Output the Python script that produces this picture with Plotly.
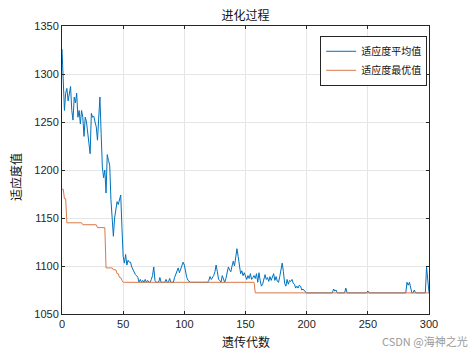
import plotly.graph_objects as go

generations = list(range(0, 301))

avg_fitness = [
    1326, 1300, 1262, 1280, 1285, 1272, 1278, 1287, 1262, 1252,
    1276, 1270, 1280, 1255, 1262, 1248, 1262, 1255, 1235, 1255,
    1250, 1241, 1228, 1217, 1259, 1255, 1256, 1250, 1245, 1231,
    1260, 1276, 1238, 1203, 1192, 1200, 1176, 1216, 1210, 1205,
    1169, 1145, 1131, 1150, 1160, 1167, 1164, 1168, 1174, 1140,
    1110, 1103, 1112, 1101, 1106, 1104, 1104, 1099, 1096, 1093,
    1091, 1090, 1088, 1083, 1086, 1083, 1085, 1083, 1086, 1083,
    1085, 1083, 1083, 1086, 1090, 1099, 1085, 1083, 1083, 1083,
    1088, 1083, 1083, 1083, 1083, 1086, 1083, 1083, 1087, 1083,
    1083, 1083, 1088, 1092, 1094, 1098, 1093, 1097, 1102, 1104,
    1101, 1092, 1088, 1085, 1084, 1083, 1083, 1083, 1083, 1083,
    1083, 1083, 1083, 1083, 1083, 1083, 1083, 1083, 1083, 1083,
    1085, 1089, 1086, 1088, 1090, 1094, 1101, 1094, 1086, 1085,
    1083, 1090, 1086, 1083, 1087, 1093, 1099, 1096, 1094, 1100,
    1105, 1100, 1108, 1118, 1110, 1100, 1092, 1095, 1090, 1093,
    1089, 1086, 1090, 1087, 1092, 1086, 1088, 1090, 1087, 1092,
    1083, 1093, 1085, 1079, 1081, 1085, 1091, 1086, 1088, 1084,
    1089, 1085, 1088, 1092, 1085, 1089, 1084, 1083, 1089, 1096,
    1103, 1094, 1082, 1079, 1086, 1081, 1085, 1084, 1086, 1082,
    1081, 1077, 1079, 1077, 1080, 1079, 1075, 1076, 1074, 1073,
    1072, 1072, 1072, 1072, 1072, 1072, 1072, 1072, 1072, 1072,
    1072, 1072, 1072, 1072, 1072, 1072, 1072, 1072, 1072, 1072,
    1072, 1072, 1076, 1074, 1075, 1072, 1072, 1072, 1072, 1072,
    1072, 1072, 1077, 1072, 1072, 1072, 1072, 1072, 1072, 1072,
    1072, 1072, 1072, 1072, 1072, 1072, 1072, 1072, 1072, 1072,
    1074, 1072, 1072, 1072, 1072, 1072, 1072, 1072, 1072, 1072,
    1072, 1072, 1072, 1072, 1072, 1072, 1072, 1072, 1072, 1072,
    1072, 1072, 1072, 1072, 1072, 1072, 1072, 1072, 1072, 1072,
    1072, 1072, 1083, 1080, 1083, 1077, 1072, 1072, 1075, 1072,
    1072, 1072, 1072, 1072, 1072, 1072, 1072, 1072, 1099, 1080,
    1072,
]

best_fitness = [
    1180, 1180, 1170, 1170, 1145, 1145, 1145, 1145, 1145, 1145,
    1145, 1145, 1145, 1145, 1145, 1145, 1145, 1143, 1143, 1143,
    1143, 1143, 1143, 1143, 1143, 1143, 1143, 1143, 1143, 1140,
    1140, 1140, 1140, 1140, 1140, 1140, 1098, 1098, 1098, 1098,
    1098, 1098, 1096, 1096, 1096, 1092, 1092, 1088, 1088, 1085,
    1083, 1083, 1083, 1083, 1083, 1083, 1083, 1083, 1083, 1083,
    1083, 1083, 1083, 1083, 1083, 1083, 1083, 1083, 1083, 1083,
    1083, 1083, 1083, 1083, 1083, 1083, 1083, 1083, 1083, 1083,
    1083, 1083, 1083, 1083, 1083, 1083, 1083, 1083, 1083, 1083,
    1083, 1083, 1083, 1083, 1083, 1083, 1083, 1083, 1083, 1083,
    1083, 1083, 1083, 1083, 1083, 1083, 1083, 1083, 1083, 1083,
    1083, 1083, 1083, 1083, 1083, 1083, 1083, 1083, 1083, 1083,
    1083, 1083, 1083, 1083, 1083, 1083, 1083, 1083, 1083, 1083,
    1083, 1083, 1083, 1083, 1083, 1083, 1083, 1083, 1083, 1083,
    1083, 1083, 1083, 1083, 1083, 1083, 1083, 1083, 1083, 1083,
    1083, 1083, 1083, 1083, 1083, 1083, 1083, 1083, 1072, 1072,
    1072, 1072, 1072, 1072, 1072, 1072, 1072, 1072, 1072, 1072,
    1072, 1072, 1072, 1072, 1072, 1072, 1072, 1072, 1072, 1072,
    1072, 1072, 1072, 1072, 1072, 1072, 1072, 1072, 1072, 1072,
    1072, 1072, 1072, 1072, 1072, 1072, 1072, 1072, 1072, 1072,
    1072, 1072, 1072, 1072, 1072, 1072, 1072, 1072, 1072, 1072,
    1072, 1072, 1072, 1072, 1072, 1072, 1072, 1072, 1072, 1072,
    1072, 1072, 1072, 1072, 1072, 1072, 1072, 1072, 1072, 1072,
    1072, 1072, 1072, 1072, 1072, 1072, 1072, 1072, 1072, 1072,
    1072, 1072, 1072, 1072, 1072, 1072, 1072, 1072, 1072, 1072,
    1072, 1072, 1072, 1072, 1072, 1072, 1072, 1072, 1072, 1072,
    1072, 1072, 1072, 1072, 1072, 1072, 1072, 1072, 1072, 1072,
    1072, 1072, 1072, 1072, 1072, 1072, 1072, 1072, 1072, 1072,
    1072, 1072, 1072, 1072, 1072, 1072, 1072, 1072, 1072, 1072,
    1072, 1072, 1072, 1072, 1072, 1072, 1072, 1072, 1072, 1072,
    1072,
]

x_ticks = [0, 50, 100, 150, 200, 250, 300]
y_ticks = [1050, 1100, 1150, 1200, 1250, 1300, 1350]

series_names = ["适应度平均值", "适应度最优值"]
title_text = "进化过程"
x_title = "遗传代数"
y_title = "适应度值"
watermark = "CSDN @海神之光"

CJK = "Noto Sans CJK SC"
LATIN = "Liberation Sans, Arial, sans-serif"
TXT = "#262626"

L, R, T, B = 62, 45, 26, 41
W, H = 474, 355
PW, PH = W - L - R, H - T - B

fig = go.Figure()
fig.add_trace(go.Scatter(
    x=generations, y=avg_fitness, mode="lines", name=series_names[0],
    line=dict(color="#0072BD", width=1),
))
fig.add_trace(go.Scatter(
    x=generations, y=best_fitness, mode="lines", name=series_names[1],
    line=dict(color="#D9794A", width=1),
))

axis_common = dict(
    showline=True, linecolor="#262626", linewidth=1, mirror="ticks",
    ticks="inside", ticklen=3, tickcolor="#262626",
    showgrid=True, gridcolor="#e6e6e6", gridwidth=1, zeroline=False,
    tickfont=dict(family=LATIN, size=11, color=TXT),
    automargin=False,
)

fig.update_layout(
    width=W, height=H,
    margin=dict(l=L, r=R, t=T, b=B),
    paper_bgcolor="white", plot_bgcolor="white",
    title=dict(text=title_text, x=(L + L + PW) / 2 / W, xanchor="center",
               y=1 - 16 / H, yanchor="middle",
               font=dict(family=CJK, size=12, color="#111111")),
    legend=dict(x=0.995, y=0.966, xanchor="right", yanchor="top",
                bgcolor="white", bordercolor="#262626", borderwidth=1,
                font=dict(family=CJK, size=10, color="#111111"),
                tracegroupgap=0, itemwidth=30),
    xaxis=dict(range=[0, 300], tickvals=x_ticks, title=dict(text=""),
               **axis_common),
    yaxis=dict(range=[1050, 1350], tickvals=y_ticks, title=dict(text=""),
               **axis_common),
    showlegend=True,
)

fig.add_annotation(
    text=x_title, xref="paper", yref="paper", x=0.5, y=(T + PH - 341) / PH,
    xanchor="center", yanchor="middle", showarrow=False,
    font=dict(family=CJK, size=12, color="#111111"),
)
fig.add_annotation(
    text=y_title, xref="paper", yref="paper", x=(15 - L) / PW,
    y=(T + PH - 177) / PH, xanchor="center", yanchor="middle",
    textangle=-90, showarrow=False,
    font=dict(family=CJK, size=12, color="#111111"),
)
fig.add_annotation(
    text=watermark, xref="paper", yref="paper", x=(470 - L) / PW,
    y=(T + PH - 341) / PH, xanchor="right", yanchor="middle",
    showarrow=False,
    font=dict(family=CJK, size=11, color="#9a9a9a"),
)

fig.write_html(
    "out.html",
    config={"displayModeBar": False},
    post_script="document.body.style.margin='0';document.body.style.overflow='hidden';",
)
